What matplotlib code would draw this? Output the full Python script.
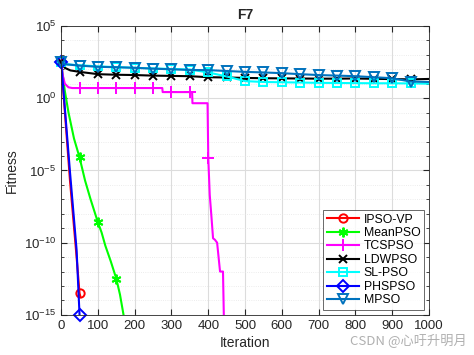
import matplotlib.pyplot as plt
from matplotlib.lines import Line2D

plt.rcParams['font.family'] = ['Liberation Sans', 'DejaVu Sans']

# convergence curves: iteration knots and log10(fitness)
ipso_it = [0, 12, 24, 42, 50, 52]
ipso_lg = [2.5, -1.6, -5.7, -11.0, -13.5, -13.7]

mean_it = [0, 10, 20, 35, 50, 65, 80, 100, 110, 120, 135, 150, 160, 171]
mean_lg = [2.5, 0.5, -1.0, -2.8, -4.1, -5.7, -7.0, -8.6, -9.3, -10.2, -11.3, -12.5, -13.6, -15.2]

tcs_it = [0, 5, 10, 20, 30, 50, 100, 150, 200, 250, 275, 276, 300, 350, 356, 357,
          398, 400, 404, 408, 413, 418, 424, 432, 440, 443]
tcs_lg = [2.5, 1.5, 1.0, 0.75, 0.7, 0.7, 0.7, 0.7, 0.7, 0.7, 0.7, 0.42, 0.42, 0.42, 0.42, -0.35,
          -0.35, -4.15, -6.7, -8.0, -9.7, -9.8, -10.0, -12.0, -12.0, -16.0]

ldw_it = [0, 10, 25, 50, 100, 150, 200, 250, 300, 350, 400, 450, 500, 550, 600, 650, 700,
          750, 800, 850, 900, 950, 1000]
ldw_lg = [2.5, 2.1, 1.92, 1.82, 1.66, 1.62, 1.6, 1.56, 1.54, 1.52, 1.45, 1.43, 1.4, 1.38, 1.37,
          1.36, 1.35, 1.35, 1.36, 1.34, 1.32, 1.3, 1.33]

sl_it = [0, 10, 50, 100, 150, 200, 250, 300, 350, 400, 450, 500, 550, 600, 650, 700, 750,
         800, 850, 900, 950, 1000]
sl_lg = [2.5, 2.35, 2.28, 2.2, 2.15, 2.1, 2.06, 2.02, 1.98, 1.78, 1.5, 1.18, 1.12, 1.1, 1.08,
         1.06, 1.05, 1.04, 1.03, 1.03, 1.02, 1.0]

phs_it = [0, 12, 24, 42, 50]
phs_lg = [2.5, -1.3, -5.1, -10.5, -15.0]

mpso_it = [0, 10, 50, 100, 150, 200, 250, 300, 350, 400, 450, 500, 550, 600, 650, 700, 750,
           800, 850, 900, 950, 1000]
mpso_lg = [2.5, 2.35, 2.25, 2.17, 2.14, 2.1, 2.04, 2.0, 1.95, 1.94, 1.88, 1.82, 1.78, 1.73,
           1.66, 1.6, 1.56, 1.52, 1.45, 1.38, 1.15, 1.12]

names = ['IPSO-VP', 'MeanPSO', 'TCSPSO', 'LDWPSO', 'SL-PSO', 'PHSPSO', 'MPSO']
colors = ['#FF0000', '#00FF00', '#FF00FF', '#000000', '#00FFFF', '#0000FF', '#0072BD']
markers = ['o', (6, 2, 0), '+', 'x', 's', 'D', 'v']
sizes = [6, 7, 8, 6, 5.5, 6, 6.5]
series = [(ipso_it, ipso_lg), (mean_it, mean_lg), (tcs_it, tcs_lg), (ldw_it, ldw_lg),
          (sl_it, sl_lg), (phs_it, phs_lg), (mpso_it, mpso_lg)]

fig = plt.figure(figsize=(4.74, 3.55), dpi=100)
ax = fig.add_axes([0.129, 0.113, 0.776, 0.814])

handles = []
for name, c, m, ms, (xs, lg) in zip(names, colors, markers, sizes, series):
    ys = [10.0 ** v for v in lg]
    ax.plot(xs, ys, color=c, lw=1.5)
    mk = [i for i, it in enumerate(xs) if it % 50 == 0 and it < 1000 and lg[i] >= -15.05]
    ax.plot([xs[i] for i in mk], [ys[i] for i in mk], linestyle='none', marker=m,
            color=c, mfc='none', mew=1.4, ms=ms, clip_on=False)
    handles.append(Line2D([], [], color=c, lw=1.5, marker=m, mfc='none', mew=1.4, ms=ms))

ax.set_yscale('log')
ax.set_xlim(0, 1000)
ax.set_ylim(1e-15, 1e5)
ax.set_xticks(range(0, 1001, 100))
ax.set_yticks([1e-15, 1e-10, 1e-5, 1e0, 1e5])
ax.set_yticks([10.0 ** k for k in range(-15, 6)], minor=True)
ax.set_yticklabels([], minor=True)
ax.tick_params(which='both', direction='in', top=True, right=True, labelsize=9.5,
               color='#262626', labelcolor='#262626')
ax.tick_params(which='major', length=4)
ax.tick_params(which='minor', length=2)
ax.grid(True, which='major', color='#DCDCDC', lw=0.8)
ax.grid(True, which='minor', color='#E6E6E6', lw=0.6, linestyle=':')
ax.set_axisbelow(True)
for s in ax.spines.values():
    s.set_color('#262626')
    s.set_linewidth(0.6)

ax.set_title('F7', fontsize=10, fontweight='bold', color='#262626', pad=5)
ax.set_xlabel('Iteration', fontsize=10, color='#262626', labelpad=3)
ax.set_ylabel('Fitness', fontsize=10, color='#262626', labelpad=4)

leg = ax.legend(handles, names, loc='lower right', fontsize=8.8, frameon=True, fancybox=False,
                edgecolor='#262626', handlelength=2.6, borderpad=0.3, labelspacing=0.12,
                handletextpad=0.4, borderaxespad=0.4, bbox_to_anchor=(1.0, 0.0))
leg.get_frame().set_linewidth(0.6)

fig.text(0.985, 0.02, 'CSDN @心吁升明月', ha='right', va='bottom', fontsize=9.5,
         color='#B0B0B0', family=['Noto Sans CJK SC', 'DejaVu Sans'])

fig.savefig('out.png', dpi=100)
